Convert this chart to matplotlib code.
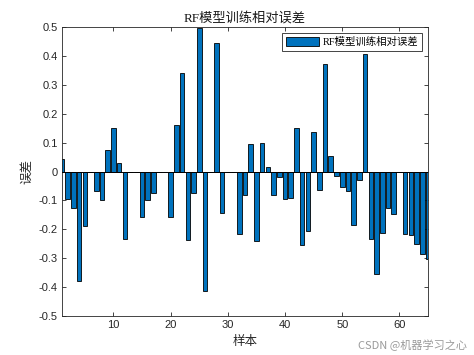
import matplotlib
matplotlib.use("Agg")
import matplotlib.pyplot as plt
import numpy as np

samples = list(range(1, 66))
errors = [
    0.042, -0.095, -0.128, -0.378, -0.190, 0.0, -0.066, -0.098, 0.076, 0.152,
    0.030, -0.233, 0.0, 0.0, -0.156, -0.099, -0.073, 0.0, 0.0, -0.156,
    0.160, 0.341, -0.236, -0.076, 0.498, -0.415, 0.0, 0.443, -0.144, 0.0,
    0.0, -0.216, -0.081, 0.0965, -0.242, 0.100, 0.016, -0.081, -0.020, -0.095,
    -0.090, 0.149, -0.253, -0.206, 0.138, -0.064, 0.373, 0.052, -0.015, -0.052,
    -0.069, -0.184, -0.029, 0.405, -0.235, -0.353, -0.212, -0.126, -0.148, 0.0,
    -0.215, -0.221, -0.252, -0.286, -0.302,
]
xticks = [10, 20, 30, 40, 50, 60]
yticks = [0.5, 0.4, 0.3, 0.2, 0.1, 0, -0.1, -0.2, -0.3, -0.4, -0.5]
ytick_labels = ["0.5", "0.4", "0.3", "0.2", "0.1", "0", "-0.1", "-0.2", "-0.3", "-0.4", "-0.5"]

serif_cjk = ["Liberation Serif", "Noto Sans CJK SC"]
sans = ["Liberation Sans", "DejaVu Sans"]

fig = plt.figure(figsize=(4.74, 3.55), dpi=100)
ax = fig.add_axes([62/474, 1 - 316/355, (428-62)/474, (316-27)/355])

ax.bar(samples, errors, width=0.8, color="#0072BD", edgecolor="black",
       linewidth=0.6, label="RF模型训练相对误差", zorder=2)
ax.axhline(0, color="black", linewidth=0.7, zorder=3)

ax.set_xlim(1, 65)
ax.set_ylim(-0.5, 0.5)
ax.set_xticks(xticks)
ax.set_yticks(yticks)
ax.set_yticklabels(ytick_labels)
for lab in ax.get_xticklabels() + ax.get_yticklabels():
    lab.set_family(sans)
    lab.set_fontsize(8)
    lab.set_color("#262626")

ax.tick_params(direction="in", top=True, right=True, length=3, width=0.6,
               color="#262626", pad=3)
for s in ax.spines.values():
    s.set_color("#262626")
    s.set_linewidth(0.6)

ax.set_title("RF模型训练相对误差", family=serif_cjk, fontsize=9.5, color="#1a1a1a", pad=4)
ax.set_xlabel("样本", family=serif_cjk, fontsize=9, color="#262626", labelpad=4)
ax.set_ylabel("误差", family=serif_cjk, fontsize=9, color="#262626", labelpad=4)

leg = ax.legend(loc="upper right", prop={"family": serif_cjk, "size": 7.5},
                fancybox=False, framealpha=1, edgecolor="#262626",
                handlelength=3.2, handleheight=0.9, borderpad=0.35,
                handletextpad=0.3, borderaxespad=0.6)
leg.get_frame().set_linewidth(0.6)

fig.text(0.985, 0.012, "CSDN @机器学习之心", ha="right", va="bottom",
         family=["Noto Sans CJK SC", "DejaVu Sans"], fontsize=8, color="#9a9a9a")

fig.savefig("out.png", dpi=100)
